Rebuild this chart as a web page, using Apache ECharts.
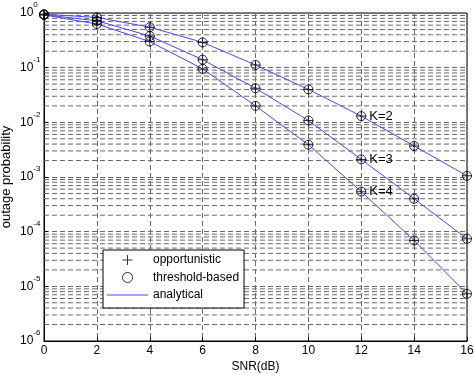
<!DOCTYPE html>
<html><head><meta charset="utf-8">
<script src="https://cdn.jsdelivr.net/npm/echarts@6/dist/echarts.min.js"></script>
<style>html,body{margin:0;padding:0;background:#fff}#c{width:474px;height:374px}</style>
</head><body><div id="c"></div>
<script>
var snr = [0, 2, 4, 6, 8, 10, 12, 14, 16];
var k2 = [0.95, 0.83, 0.55, 0.29, 0.112, 0.040, 0.013, 0.0037, 0.00105];
var k3 = [0.93, 0.72, 0.38, 0.14, 0.042, 0.0108, 0.0021, 0.0004, 0.000074];
var k4 = [0.92, 0.63, 0.30, 0.095, 0.020, 0.0039, 0.00054, 0.000069, 0.0000073];
var curveNames = ['K=2', 'K=3', 'K=4'];
var xTicks = [0, 2, 4, 6, 8, 10, 12, 14, 16];

var FONT = 'Liberation Sans';
var BLUE = '#4a4aee';
var GRID = '#6a6a6a';
var curves = [k2, k3, k4];

// minor log grid lines (2..9 x 10^e)
var minorData = [];
for (var e = -6; e < 0; e++) {
  for (var m = 2; m <= 9; m++) {
    var v = m * Math.pow(10, e);
    minorData.push([0, v], [16, v], '-');
  }
}

function pairs(arr) { return snr.map(function (x, i) { return [x, arr[i]]; }); }
var allPts = [].concat(pairs(k2), pairs(k3), pairs(k4));

var series = [];
series.push({
  name: 'minorGrid', type: 'line', data: minorData, connectNulls: false,
  showSymbol: false, symbol: 'none', silent: true, animation: false, z: 1,
  lineStyle: { type: [5, 3], color: GRID, width: 1 }, itemStyle: { color: GRID }
});
curves.forEach(function (arr, ci) {
  series.push({
    name: 'analytical', type: 'line', data: pairs(arr).map(function (p, i) {
      var d = { value: p };
      if (i === 6) d.label = { show: true, position: 'right', distance: 7, formatter: curveNames[ci],
        color: '#000', fontSize: 13, fontFamily: FONT };
      return d;
    }),
    showSymbol: true, symbol: 'circle', symbolSize: 2,
    itemStyle: { color: BLUE }, lineStyle: { color: BLUE, width: 1 },
    animation: false, silent: true, z: 3
  });
});
series.push({
  name: 'threshold-based', type: 'scatter', data: allPts,
  symbol: 'circle', symbolSize: 9,
  itemStyle: { color: 'rgba(0,0,0,0)', borderColor: '#000', borderWidth: 1 }, animation: false, silent: true, z: 4
});
series.push({
  name: 'opportunistic', type: 'scatter', data: allPts,
  symbol: 'path://M4.5,0h1v10h-1z M0,4.5h10v1h-10z', symbolSize: 10,
  itemStyle: { color: '#000' }, animation: false, silent: true, z: 5
});

var chart = echarts.init(document.getElementById('c'), null, { renderer: 'canvas' });
chart.setOption({
  backgroundColor: '#fff',
  animation: false,
  grid: { left: 44, right: 7, top: 13, bottom: 33, containLabel: false, outerBoundsMode: 'none',
    show: true, borderColor: '#000', borderWidth: 1, backgroundColor: '#fff' },
  xAxis: {
    type: 'value', min: 0, max: 16, interval: 2,
    name: 'SNR(dB)', nameLocation: 'middle', nameGap: 20, nameMoveOverlap: false,
    nameTextStyle: { fontFamily: FONT, fontSize: 12, color: '#000' },
    axisLine: { show: true, lineStyle: { color: '#000' } },
    axisTick: { show: true, inside: true, length: 4, lineStyle: { color: '#000' } },
    axisLabel: { margin: 4, fontFamily: FONT, fontSize: 12, color: '#000',
      formatter: function (v) { return xTicks.indexOf(v) >= 0 ? String(v) : ''; } },
    splitLine: { show: true, lineStyle: { type: [5, 3], color: GRID, width: 1 } }
  },
  yAxis: {
    type: 'log', logBase: 10, min: 1e-6, max: 1,
    name: 'outage probability', nameLocation: 'middle', nameGap: 31, nameMoveOverlap: false,
    nameTextStyle: { fontFamily: FONT, fontSize: 13, color: '#000' },
    axisLine: { show: true, lineStyle: { color: '#000' } },
    axisTick: { show: true, inside: true, length: 4, lineStyle: { color: '#000' } },
    axisLabel: {
      margin: 24, align: 'left', fontFamily: FONT,
      formatter: function (v) {
        var ex = Math.round(Math.log(v) / Math.LN10);
        return '{b|10}{s|' + ex + '}';
      },
      rich: {
        b: { fontSize: 12, fontFamily: FONT, color: '#000', lineHeight: 24, verticalAlign: 'middle' },
        s: { fontSize: 8, fontFamily: FONT, color: '#000', lineHeight: 9, verticalAlign: 'top' }
      }
    },
    splitLine: { show: true, lineStyle: { type: [5, 3], color: GRID, width: 1 } }
  },
  legend: {
    left: 103, top: 250, orient: 'vertical',
    backgroundColor: '#fff', borderColor: '#000', borderWidth: 1,
    padding: [4, 5, 7, 4], itemGap: 5.5, itemWidth: 41, itemHeight: 10,
    textStyle: { fontFamily: FONT, fontSize: 12, color: '#000' },
    selectedMode: false,
    data: [
      { name: 'opportunistic', icon: 'path://M4.5,0h1v10h-1z M0,4.5h10v1h-10z' },
      { name: 'threshold-based', icon: 'circle',
        itemStyle: { color: 'rgba(0,0,0,0)', borderColor: '#000', borderWidth: 1 } },
      { name: 'analytical', icon: 'path://M0,0h40v1.2h-40z' }
    ]
  },
  series: series
});
</script></body></html>
